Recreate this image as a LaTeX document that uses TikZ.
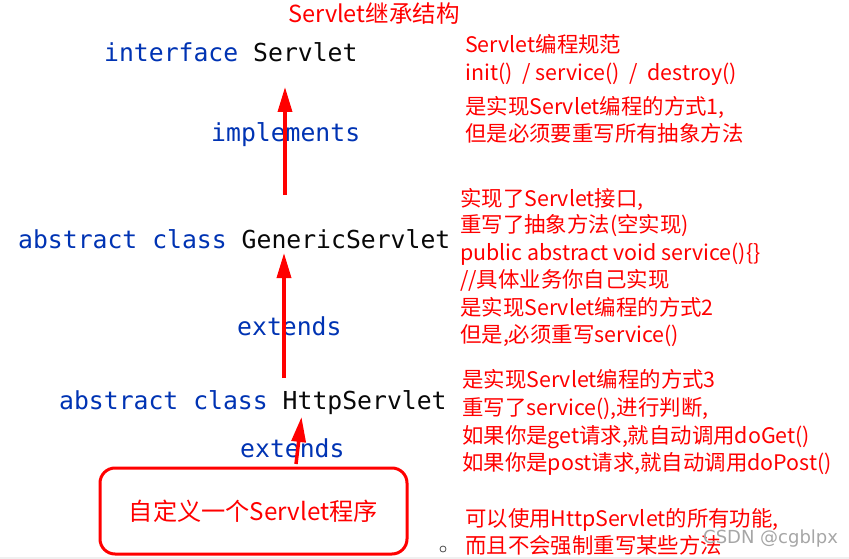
\documentclass[tikz,border=0pt]{standalone}
\usepackage{fontspec}
\setmainfont{Noto Sans CJK SC}
\newfontfamily\cjkf{Noto Sans CJK SC}
\newfontfamily\codef{DejaVu Sans Mono}
\newfontfamily\wmf{DejaVu Sans}
\usetikzlibrary{arrows.meta}
\definecolor{kw}{RGB}{0,51,179}
\definecolor{idc}{RGB}{8,8,8}
\definecolor{note}{RGB}{255,0,0}
\tikzset{
 code/.style={anchor=base west, inner sep=0pt, font=\codef\fontsize{24.75}{28}\selectfont, text=kw},
 notetext/.style={anchor=base west, inner sep=0pt, font=\cjkf\fontsize{21.4}{25}\selectfont, text=note},
 inh/.style={draw=note, line width=3.5pt, -{Triangle[length=25pt,width=14pt]}},
}
\begin{document}
\begin{tikzpicture}[x=1pt,y=-1pt]
\useasboundingbox (0,0) rectangle (849,559);
\fill[black!6] (0,557) rectangle (849,559);
% title
\node[notetext, font=\cjkf\fontsize{23.5}{27}\selectfont] (title) at (288,23) {Servlet继承结构};
% left column
\node[code] (servlet) at (104,62) {interface \textcolor{idc}{Servlet}};
\node[code] (impl) at (211,142) {implements};
\node[code] (generic) at (18,248) {abstract class \textcolor{idc}{GenericServlet}};
\node[code] (ext1) at (237,335) {extends};
\node[code] (http) at (59,409) {abstract class \textcolor{idc}{HttpServlet}};
\node[code] (ext2) at (240,457) {extends};
% custom box
\node[draw=note, line width=3pt, rounded corners=15pt, minimum width=307pt, minimum height=86pt,
      text=note, font=\cjkf\fontsize{24.2}{28}\selectfont] (custom) at (253.5,511) {自定义一个Servlet程序};
% arrows
\coordinate (a1s) at (285,195); \coordinate (a1e) at (285,87);
\coordinate (a2s) at (284,378); \coordinate (a2e) at (284,253);
\coordinate (a3s) at (296,464); \coordinate (a3e) at (301.5,417);
\draw[inh] (a1s) -- (a1e);
\draw[inh] (a2s) -- (a2e);
\draw[inh] (a3s) -- (a3e);
% notes block 1
\node[notetext] (n11) at (465,53) {Servlet编程规范};
\node[notetext] (n12) at (465,81) {init()~~/~service()~~/~~destroy()};
\node[notetext] (n13) at (465,115) {是实现Servlet编程的方式1,};
\node[notetext] (n14) at (465,142) {但是必须要重写所有抽象方法};
% block 2
\node[notetext] (n21) at (460,206) {实现了Servlet接口,};
\node[notetext] (n22) at (460,233) {重写了抽象方法(空实现)};
\node[notetext] (n23) at (460,260) {public abstract void service()\{\}};
\node[notetext] (n24) at (460,287) {//具体业务你自己实现};
\node[notetext] (n25) at (460,315) {是实现Servlet编程的方式2};
\node[notetext] (n26) at (460,342) {但是,必须重写service()};
% block 3
\node[notetext] (n31) at (462,387) {是实现Servlet编程的方式3};
\node[notetext] (n32) at (462,415) {重写了service(),进行判断,};
\node[notetext] (n33) at (462,443) {如果你是get请求,就自动调用doGet()};
\node[notetext] (n34) at (462,470) {如果你是post请求,就自动调用doPost()};
% block 4
\node[notetext] (n41) at (465,526) {可以使用HttpServlet的所有功能,};
\node[notetext] (n42) at (465,553) {而且不会强制重写某些方法};
% watermark and small mark
\node[anchor=base west, inner sep=0pt, text=black!35, font=\wmf\fontsize{18}{20}\selectfont] (wm) at (703,543) {CSDN @cgblpx};
\node[draw=black!70, circle, inner sep=0pt, minimum size=6pt, line width=0.8pt] (dot) at (443,549) {};
\end{tikzpicture}
\end{document}
